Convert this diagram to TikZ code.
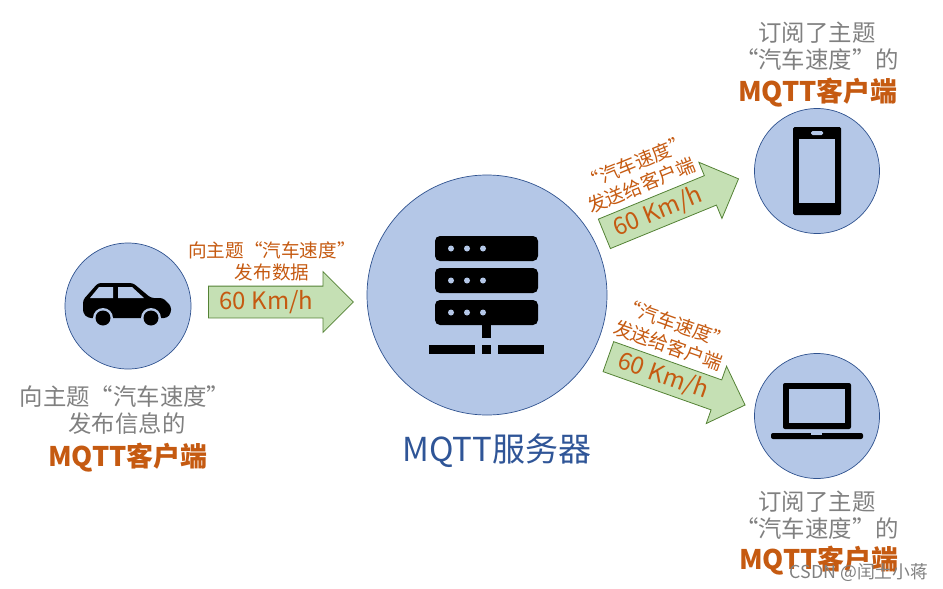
\documentclass[tikz,border=0pt]{standalone}
\usepackage{fontspec}
\setmainfont{Noto Sans CJK SC}
\usetikzlibrary{shapes.arrows}
\definecolor{discblue}{HTML}{B4C7E7}
\definecolor{discedge}{HTML}{2F528F}
\definecolor{arrowgreen}{HTML}{C5E0B4}
\definecolor{arrowedge}{HTML}{548235}
\definecolor{rust}{HTML}{C55A11}
\definecolor{titleblue}{HTML}{2F5597}
\tikzset{
	disc/.style={circle, draw=discedge, fill=discblue, line width=0.7pt, inner sep=0pt},
	sendarrow/.style={single arrow, draw=arrowedge, fill=arrowgreen, line width=0.8pt, anchor=tail,
		minimum height=145pt, minimum width=60pt, inner xsep=0pt, inner ysep=0pt, text height=23pt, text depth=8pt,
		single arrow head extend=14.5pt, single arrow tip angle=90, text=rust, font=\fontsize{24}{28}\selectfont,
		execute at end node=\hspace{13pt}},
	note/.style={align=center, inner sep=0pt, text=gray, font=\fontsize{23.4}{27.5}\selectfont},
	client/.style={inner sep=0pt, text=rust, font=\fontsize{27}{30}\selectfont\bfseries},
	tag/.style={align=center, inner sep=0pt, text=rust, font=\fontsize{18.6}{22}\selectfont},
	tagturned/.style={align=center, inner sep=0pt, text=rust, font=\fontsize{19}{23}\selectfont},
}
\begin{document}
\begin{tikzpicture}[x=1pt, y=-1pt]
	\path[use as bounding box] (0,0) rectangle (943,589);

	\node[disc, minimum size=126pt] (car) at (128,306) {};
	\node[disc, minimum size=240pt] (server) at (487,295) {};
	\node[disc, minimum size=125pt] (phone) at (817,171) {};
	\node[disc, minimum size=125pt] (laptop) at (817,416) {};

	\node[sendarrow] (send) at (208,302) {60 Km/h};
	\node[sendarrow, rotate=22.3] (tophone) at (604,234) {60 Km/h};
	\node[sendarrow, rotate=-19.5] (tolaptop) at (608,356.5) {60 Km/h};

	\node[tag] (sendtag) at (272,261) {向主题“汽车速度”\\发布数据};
	\node[tagturned, rotate=22.3] (phonetag) at (637,174.5) {\hspace*{6pt}“汽车速度”\\发送给客户端};
	\node[tagturned, rotate=-19.5] (laptoptag) at (672,334.5) {“汽车速度”\\发送给客户端};

	\node[note] (carnote) at (125,410) {向主题“汽车速度”\\\hspace*{4pt}发布信息的};
	\node[client] (carclient) at (128,458) {MQTT客户端};
	\node[note] (phonenote) at (817,46) {订阅了主题\\“汽车速度”的};
	\node[client] (phoneclient) at (818,93) {MQTT客户端};
	\node[note] (laptopnote) at (817,515) {订阅了主题\\“汽车速度”的};
	\node[client] (laptopclient) at (819,561) {MQTT客户端};
	\node[inner sep=0pt, text=titleblue, font=\fontsize{33}{38}\selectfont] (servername) at (497,451) {MQTT服务器};
	\node[inner sep=0pt, text=gray, font=\fontsize{17.8}{20}\selectfont] (mark) at (859,572.5) {CSDN @闰土小蒋};

	\fill[rounded corners=3pt] (83,300) -- (98,283) -- (133,283) -- (151,298) -- (163,298) -- (171,306)
		-- (171,313) -- (167,318) -- (88,318) -- (83,313) -- cycle;
	\fill[discblue] (90,298) -- (99,287) -- (113,287) -- (113,298) -- cycle;
	\fill[discblue] (118,287) -- (132,287) -- (144,298) -- (118,298) -- cycle;
	\foreach \wx in {103,151} {
		\fill[discblue] (\wx,318) circle (10);
		\fill (\wx,318) circle (7.5);
	}

	\foreach \rowy in {236,268,300} {
		\fill[rounded corners=5pt] (435,\rowy) rectangle (538,\rowy+25);
		\foreach \dotx in {451,467,483}
			\fill[discblue] (\dotx,\rowy+12.5) circle (3);
	}
	\fill (482,325) rectangle (491,338);
	\fill (429,345) rectangle (475,354);
	\fill (482,345) rectangle (491,354);
	\fill (498,345) rectangle (544,354);

	\fill[rounded corners=1.5pt] (793,127) rectangle (841,215);
	\fill[discblue] (799,139) rectangle (835,203);
	\fill[discblue, rounded corners=1.5pt] (811,131) rectangle (823,135);

	\fill[rounded corners=2pt] (783,383) rectangle (851,429);
	\fill[discblue] (789,389) rectangle (845,423);
	\fill[rounded corners=2pt] (771,433) rectangle (863,439);
	\fill[discblue] (811,433) rectangle (822,435);
\end{tikzpicture}
\end{document}
